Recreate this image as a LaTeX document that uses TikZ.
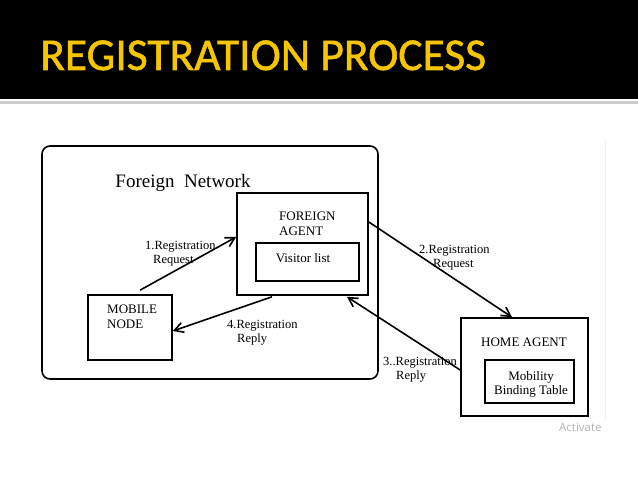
\documentclass[tikz,border=0pt]{standalone}
\usepackage{fontspec}
\setmainfont{Liberation Serif}
\newfontfamily\titlefont[FakeBold=1.2]{Carlito}
\newfontfamily\wmfont{Open Sans}
\usetikzlibrary{arrows.meta, positioning}

\definecolor{titleyellow}{RGB}{245,197,0}

\begin{document}
\begin{tikzpicture}[x=1pt, y=-1pt,
    box/.style={draw, line width=1.6pt, inner sep=0pt},
    boxtext/.style={inner sep=0pt, font=\fontsize{13}{14.5}\selectfont},
    lbl/.style={inner sep=0pt, anchor=north west, align=left, font=\fontsize{12.5}{14}\selectfont},
    msg/.style={line width=1.6pt, -{Straight Barb[length=9pt, width=10pt]}}]
  \useasboundingbox (0,0) rectangle (638,478);

  % header band
  \fill[black] (0,0) rectangle (638,99);
  \fill[black!20] (0,101.5) rectangle (638,104);
  \node[anchor=base west, inner sep=0pt, text=titleyellow,
        font=\titlefont\fontsize{45.5}{46}\selectfont] (title) at (40,70) {REGISTRATION PROCESS};

  % edge of the pasted figure
  \draw[black!6, line width=0.8pt] (605,140) -- (605,420);

  % foreign network
  \node[box, rounded corners=8pt, minimum width=336pt, minimum height=233pt] (fn) at (210,262.5) {};
  \node[anchor=base, inner sep=0pt, font=\fontsize{19}{20}\selectfont] (fnname) at (183,188) {Foreign\ \ Network};

  % foreign agent
  \node[box, minimum width=131pt, minimum height=102pt] (fa) at (302.5,244) {};
  \node[boxtext, anchor=north west, align=left] (fatext) at (279,212) {FOREIGN\\AGENT};
  \node[box, minimum width=103pt, minimum height=38pt] (vl) at (307.5,262) {};
  \node[boxtext] (vltext) at (303,258) {Visitor list};

  % mobile node
  \node[box, minimum width=84pt, minimum height=65pt] (mn) at (130,327.5) {};
  \node[boxtext, anchor=north west, align=left] (mntext) at (107,305) {MOBILE\\NODE};

  % home agent
  \node[box, minimum width=127pt, minimum height=98pt] (ha) at (524.5,367) {};
  \node[boxtext] (hatext) at (524,342.5) {HOME AGENT};
  \node[box, minimum width=89pt, minimum height=43pt] (mbt) at (529.5,381.5) {};
  \node[boxtext, align=center] (mbttext) at (531,384.5) {Mobility\\Binding Table};

  % registration messages
  \draw[msg] ([xshift=10pt, yshift=4pt]mn.north) -- ([yshift=7pt]fa.west);
  \draw[msg] ([yshift=22pt]fa.east) -- ([xshift=-12.5pt]ha.north);
  \draw[msg] ([yshift=-3pt]ha.west) -- ([xshift=44.5pt, yshift=-1pt]fa.south);
  \draw[msg] ([xshift=-30.5pt, yshift=-1pt]fa.south) -- ([yshift=-3.5pt]mn.east);

  \node[lbl] (req1) at (145,241) {1.Registration\\\hspace*{8pt}Request};
  \node[lbl] (req2) at (419,245) {2.Registration\\\hspace*{14pt}Request};
  \node[lbl] (rep3) at (383,357) {3..Registration\\\hspace*{13pt}Reply};
  \node[lbl] (rep4) at (227,320) {4.Registration\\\hspace*{10pt}Reply};

  % watermark
  \node[anchor=base west, inner sep=0pt, text=black!30, font=\wmfont\fontsize{11.5}{12}\selectfont] (wm) at (559,432) {Activate};
\end{tikzpicture}
\end{document}
